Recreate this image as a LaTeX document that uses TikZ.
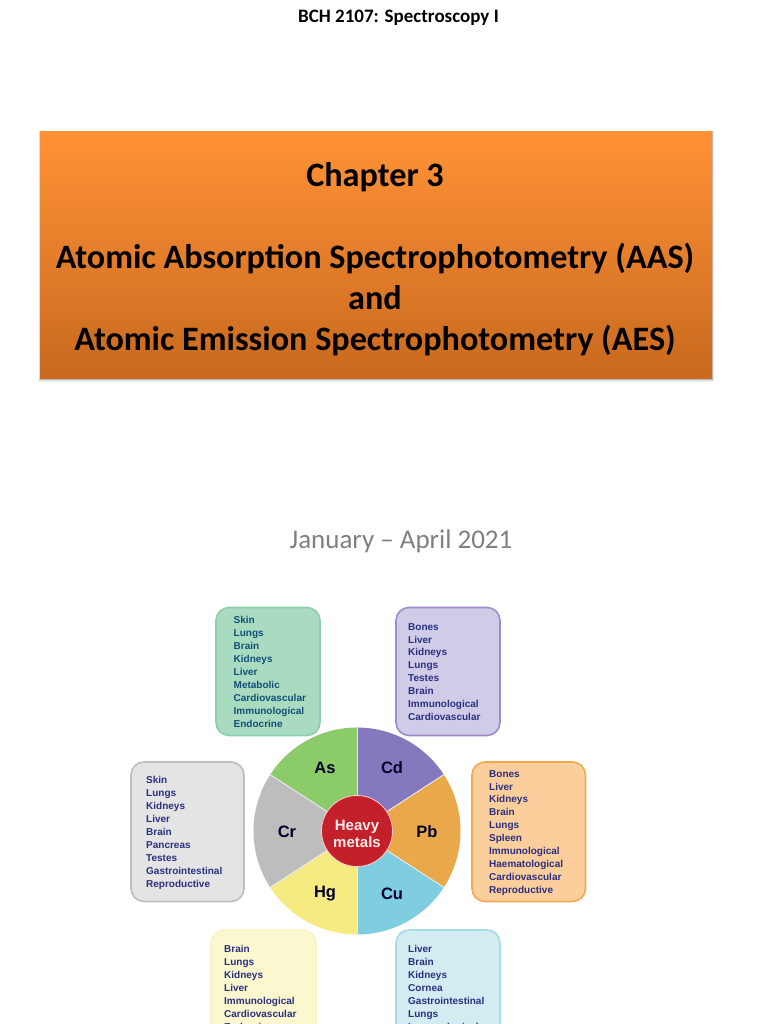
\documentclass[tikz,border=0pt]{standalone}
\usepackage{fontspec}
\setmainfont{Carlito}
\newfontfamily\lab{Liberation Sans}
\definecolor{navytx}{HTML}{2B2F80}
\definecolor{tealtx}{HTML}{124F78}
\definecolor{bannertop}{RGB}{255,146,54}
\definecolor{bannermid}{RGB}{228,126,43}
\definecolor{bannerbot}{RGB}{200,105,30}
\definecolor{asline}{RGB}{140,207,170}
\definecolor{asfill}{RGB}{168,219,192}
\definecolor{cdline}{RGB}{160,140,200}
\definecolor{cdfill}{RGB}{208,204,232}
\definecolor{pbline}{RGB}{244,168,80}
\definecolor{pbfill}{RGB}{251,206,156}
\definecolor{crline}{RGB}{190,190,190}
\definecolor{crfill}{RGB}{228,228,228}
\definecolor{hgline}{RGB}{248,244,200}
\definecolor{hgfill}{RGB}{251,248,208}
\definecolor{culine}{RGB}{168,220,232}
\definecolor{cufill}{RGB}{210,236,242}
\definecolor{aswedge}{RGB}{140,203,106}
\definecolor{cdwedge}{RGB}{134,120,188}
\definecolor{pbwedge}{RGB}{233,168,74}
\definecolor{cuwedge}{RGB}{127,205,224}
\definecolor{hgwedge}{RGB}{245,235,128}
\definecolor{crwedge}{RGB}{189,189,189}
\definecolor{hubred}{RGB}{196,32,42}
\tikzset{
  organbox/.style={rounded corners=13pt,line width=1.6pt},
  organtxt/.style={anchor=north west,inner sep=0pt,align=left,text=navytx,font=\lab\bfseries\fontsize{10}{12.95}\selectfont},
  metal/.style={font=\lab\bfseries\fontsize{16.5}{18}\selectfont,text=black!85!blue,inner sep=0pt},
  wedgeline/.style={draw=white!85!gray,line width=0.9pt}
}
\newcommand{\sectorfill}[3]{\fill[#1] (357,831) -- ++(-#2:103.5) arc[start angle=-#2,end angle=-#3,radius=103.5] -- cycle;}
\begin{document}
\begin{tikzpicture}[x=1pt,y=-1pt]
\useasboundingbox (0,0) rectangle (768,1024);
\clip (0,0) rectangle (768,1024);
\fill[white] (0,0) rectangle (768,1024);

\node[font=\bfseries\fontsize{19}{22}\selectfont,inner sep=0pt] (head) at (398.5,17.5) {BCH 2107: Spectroscopy I};

% title banner
\foreach \o/\d in {0.06/3,0.09/2,0.13/1}{
  \fill[black,opacity=\o] (40-\d*0.5,131) rectangle (712+\d*0.5,378+\d+1);
}
\node[minimum width=672pt,minimum height=247pt,inner sep=0pt,top color=bannertop,bottom color=bannerbot,middle color=bannermid,anchor=north west] (banner) at (40,131) {};
\node[font=\bfseries\fontsize{34.2}{41}\selectfont,align=center,inner sep=0pt,text=black] (title) at (375,259) {Chapter 3\\[41pt]Atomic Absorption Spectrophotometry (AAS)\\and\\Atomic Emission Spectrophotometry (AES)};

\node[font=\fontsize{27}{32}\selectfont,text=black!50,inner sep=0pt] (date) at (401,541.5) {January – April 2021};

% organ boxes
\filldraw[organbox,draw=asline,fill=asfill] (216,607.5) rectangle (320,735.5);
\node[organtxt,text=tealtx] (astxt) at (233.5,616.5) {Skin\\Lungs\\Brain\\Kidneys\\Liver\\Metabolic\\Cardiovascular\\Immunological\\Endocrine};

\filldraw[organbox,draw=cdline,fill=cdfill] (396,607.5) rectangle (500,735.5);
\node[organtxt] (cdtxt) at (408,623) {Bones\\Liver\\Kidneys\\Lungs\\Testes\\Brain\\Immunological\\Cardiovascular};

\filldraw[organbox,draw=pbline,fill=pbfill] (472,762) rectangle (585.5,901.5);
\node[organtxt] (pbtxt) at (489,770) {Bones\\Liver\\Kidneys\\Brain\\Lungs\\Spleen\\Immunological\\Haematological\\Cardiovascular\\Reproductive};

\filldraw[organbox,draw=crline,fill=crfill] (131,762) rectangle (244,901.5);
\node[organtxt] (crtxt) at (146,776) {Skin\\Lungs\\Kidneys\\Liver\\Brain\\Pancreas\\Testes\\Gastrointestinal\\Reproductive};

\filldraw[organbox,draw=hgline,fill=hgfill] (211,930) rectangle (316,1060);
\node[organtxt] (hgtxt) at (224,945) {Brain\\Lungs\\Kidneys\\Liver\\Immunological\\Cardiovascular\\Endocrine};

\filldraw[organbox,draw=culine,fill=cufill] (396,930) rectangle (500,1060);
\node[organtxt] (cutxt) at (408,945) {Liver\\Brain\\Kidneys\\Cornea\\Gastrointestinal\\Lungs\\Immunological};

% wheel
\sectorfill{aswedge}{90}{147}
\sectorfill{cdwedge}{33}{90}
\sectorfill{pbwedge}{-33}{33}
\sectorfill{cuwedge}{-90}{-33}
\sectorfill{hgwedge}{-147}{-90}
\sectorfill{crwedge}{147}{213}
\foreach \a in {33,90,147,213,270,327}{
  \draw[wedgeline] (357,831) -- ++(-\a:103.5);
}
\node[circle,minimum size=71pt,inner sep=0pt,fill=hubred,draw=white!80!red,line width=0.8pt] (hub) at (357,831) {};
\node[font=\lab\bfseries\fontsize{15}{17}\selectfont,text=white!92!red,align=center,inner sep=0pt] (hubt) at (357,833.5) {Heavy\\metals};

\node[metal] (as) at (325,768) {As};
\node[metal] (cd) at (392,768) {Cd};
\node[metal] (pb) at (427,832) {Pb};
\node[metal] (cu) at (392,894) {Cu};
\node[metal] (hg) at (325,894) {Hg};
\node[metal] (cr) at (287,832) {Cr};
\end{tikzpicture}
\end{document}
